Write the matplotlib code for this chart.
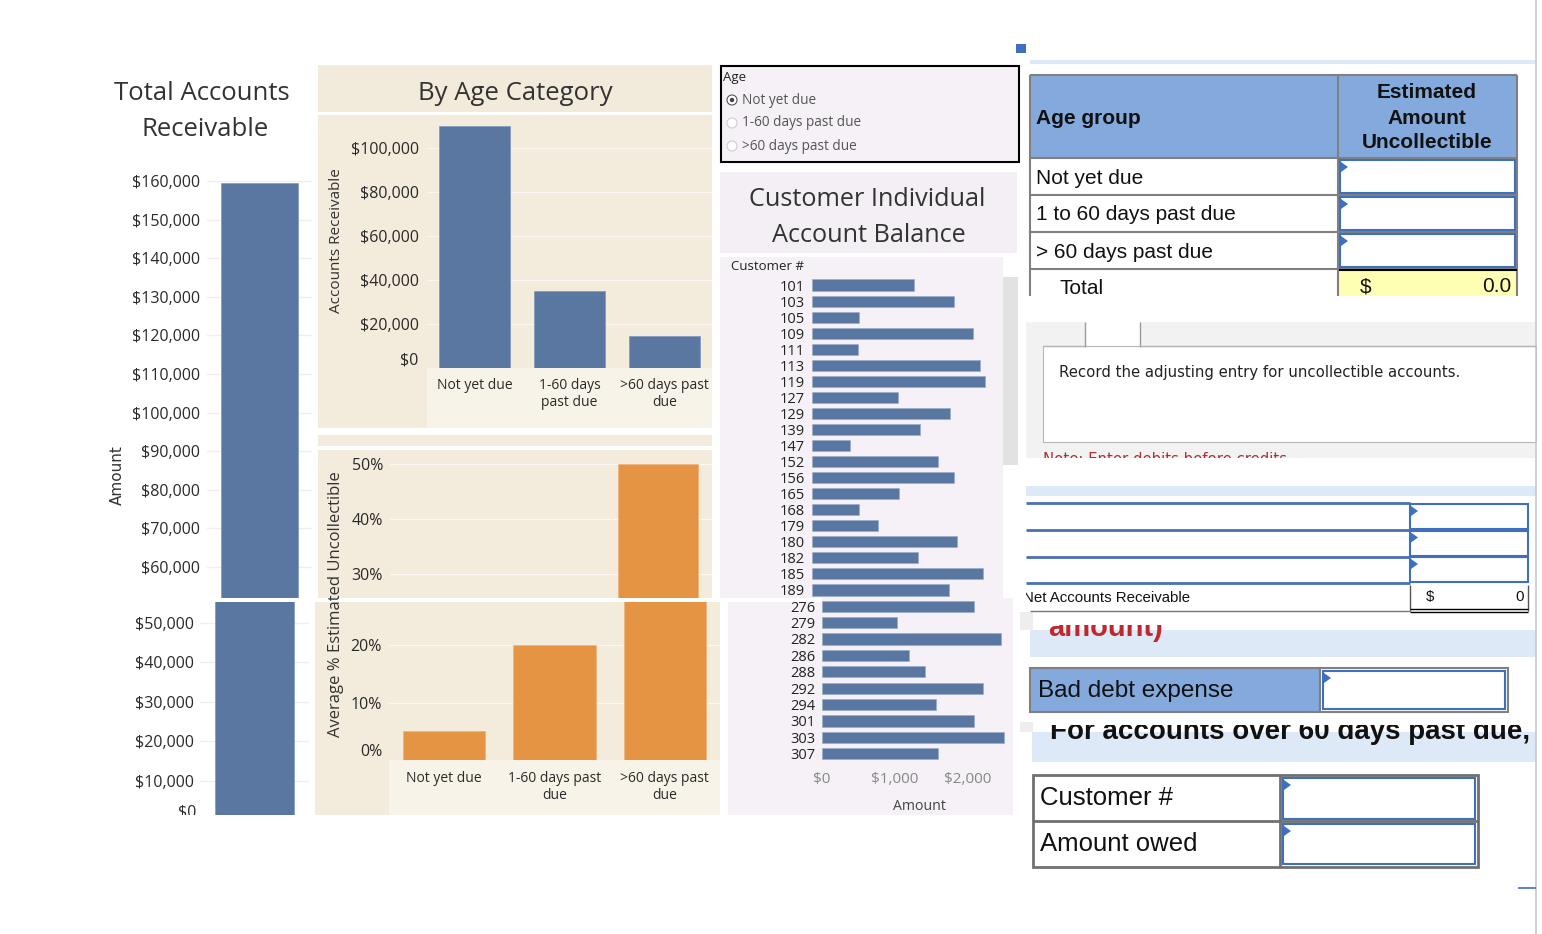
import matplotlib
matplotlib.use("Agg")
import matplotlib.pyplot as plt
from matplotlib.patches import Rectangle, Polygon, Circle

W, H = 1542, 934

# ---- data ----
age_groups = ["Not yet due", "1-60 days past due", ">60 days past due"]
age_ticks_top = ["Not yet due", "1-60 days\npast due", ">60 days past\ndue"]
age_ticks_pct = ["Not yet due", "1-60 days past\ndue", ">60 days past\ndue"]
ar_by_age = [110000, 35000, 14500]
pct_uncollectible = [5, 20, 50]

customers_top = [101, 103, 105, 109, 111, 113, 119, 127, 129, 139,
                 147, 152, 156, 165, 168, 179, 180, 182, 185, 189]
balances_top = [1400, 1950, 650, 2200, 630, 2300, 2370, 1175, 1890, 1480,
                525, 1720, 1950, 1190, 645, 905, 1985, 1455, 2340, 1870]
customers_bottom = [276, 279, 282, 286, 288, 292, 294, 301, 303, 307]
balances_bottom = [2080, 1030, 2445, 1190, 1405, 2200, 1555, 2080, 2495, 1590]

table_rows = ["Not yet due", "1 to 60 days past due", "> 60 days past due"]

BLUE = "#5a77a2"
ORANGE = "#e59443"
BEIGE = "#f3ebdc"
BEIGE_LIGHT = "#f8f3e8"
LAVENDER = "#f5f1f6"
HEAD_BLUE = "#84aadd"
INPUT_BLUE = "#3f6fbf"
BAND = "#dde9f6"
TAB_FONT = "Open Sans"
SHEET_FONT = "Liberation Sans"
TICK = 11.5

fig = plt.figure(figsize=(W / 100, H / 100), dpi=100)


def px_axes(x, y, w, h, z=2):
    ax = fig.add_axes([x / W, 1 - (y + h) / H, w / W, h / H])
    ax.set_zorder(z)
    return ax


bg = px_axes(0, 0, W, H, z=0)
bg.set_xlim(0, W)
bg.set_ylim(H, 0)
bg.axis("off")


def rect(x, y, w, h, fc="none", ec="none", lw=0, z=1):
    bg.add_patch(Rectangle((x, y), w, h, fc=fc, ec=ec, lw=lw, zorder=z))


def hline(y, x0, x1, color, lw=1.0, z=3):
    bg.plot([x0, x1], [y, y], color=color, lw=lw, zorder=z, solid_capstyle="butt")


def vline(x, y0, y1, color, lw=1.0, z=3):
    bg.plot([x, x], [y0, y1], color=color, lw=lw, zorder=z, solid_capstyle="butt")


def txt(x, y, s, size, ha="left", va="center", color="#333333", family=TAB_FONT, clip=None, **kw):
    t = bg.text(x, y, s, size=size, ha=ha, va=va, color=color, family=family, zorder=6, **kw)
    if clip is not None:
        cx, cy, cw, ch = clip
        t.set_clip_path(Rectangle((cx, cy), cw, ch, transform=bg.transData))
        t.set_clip_on(True)
    return t


def style(ax, fc, grid="#efefef"):
    ax.set_facecolor(fc)
    for s in ax.spines.values():
        s.set_visible(False)
    ax.tick_params(length=0, labelsize=TICK, labelcolor="#2a2a2a")
    ax.yaxis.grid(True, color=grid, lw=0.9)
    ax.set_axisbelow(True)
    for lab in ax.get_xticklabels() + ax.get_yticklabels():
        lab.set_family(TAB_FONT)


def money(vals):
    return ["${:,.0f}".format(v) for v in vals]


# ---- Total Accounts Receivable ----
total_ar = sum(ar_by_age)
txt(202, 90, "Total Accounts", 18.5, ha="center", va="center_baseline")
txt(205, 126, "Receivable", 18.5, ha="center", va="center_baseline")
txt(117, 475, "Amount", 11, ha="center", rotation=90, family=["Liberation Sans Narrow", "DejaVu Sans"])

ax = px_axes(207, 172, 105, 426)
ax.bar([0], [total_ar], width=0.733, color=BLUE, edgecolor="#7f98bd", lw=0.5)
ax.set_xlim(-0.5, 0.5)
ax.set_ylim(51970, 162330)
ticks = list(range(60000, 160001, 10000))
ax.set_yticks(ticks, money(ticks))
ax.set_xticks([])
style(ax, "white")
ax.tick_params(axis="y", pad=5)

ax = px_axes(200, 602, 109, 213)
ax.bar([0], [total_ar], width=0.725, color=BLUE, edgecolor="#7f98bd", lw=0.5)
ax.set_xlim(-0.5, 0.5)
ax.set_ylim(1392, 55316)
ticks = list(range(10000, 50001, 10000))
ax.set_yticks(ticks, money(ticks))
ax.set_xticks([])
style(ax, "white")
ax.tick_params(axis="y", pad=4)
txt(196, 812, "$0", TICK, ha="right", color="#2a2a2a", clip=(100, 790, 200, 25))

# ---- By Age Category ----
rect(318, 65, 394, 47, fc="#f2eadb")
txt(515, 90, "By Age Category", 18.5, ha="center", va="center_baseline")
rect(318, 115, 394, 313, fc=BEIGE)
rect(427, 368, 285, 60, fc=BEIGE_LIGHT)
txt(337, 241, "Accounts Receivable", 11, ha="center", rotation=90)

ax = px_axes(427, 115, 285, 253)
ax.bar(range(3), ar_by_age, width=0.755, color=BLUE, edgecolor="#7f98bd", lw=0.5)
ax.set_xlim(-0.5, 2.5)
ax.set_ylim(0, 115000)
ticks = list(range(0, 100001, 20000))
ax.set_yticks(ticks, money(ticks))
ax.set_xticks(range(3), age_ticks_top)
style(ax, BEIGE, grid="#fbf7f0")
ax.tick_params(axis="y", pad=6)
ax.tick_params(axis="x", pad=7, labelsize=10)
ax.get_yticklabels()[0].set_va("bottom")

# ---- Average % Estimated Uncollectible ----
rect(318, 435, 394, 11, fc=BEIGE)
rect(318, 450, 394, 148, fc=BEIGE)
rect(315, 602, 405, 213, fc=BEIGE)
rect(389, 760, 331, 55, fc=BEIGE_LIGHT)
txt(336, 604, "Average % Estimated Uncollectible", 12, ha="center", rotation=90)

ax = px_axes(390, 450, 322, 148)
ax.bar(range(3), pct_uncollectible, width=0.745, color=ORANGE, edgecolor="#eeb27a", lw=0.5)
ax.set_xlim(-0.5, 2.5)
ax.set_ylim(25.64, 52.55)
ax.set_yticks([30, 40, 50], ["30%", "40%", "50%"])
ax.set_xticks([])
style(ax, BEIGE, grid="#fbf7f0")
ax.tick_params(axis="y", pad=5)

ax = px_axes(389, 602, 331, 158)
ax.bar(range(3), pct_uncollectible, width=0.745, color=ORANGE, edgecolor="#eeb27a", lw=0.5)
ax.set_xlim(-0.5, 2.5)
ax.set_ylim(0, 27.57)
ax.set_yticks([0, 10, 20], ["0%", "10%", "20%"])
ax.set_xticks(range(3), age_ticks_pct)
style(ax, BEIGE, grid="#fbf7f0")
ax.tick_params(axis="y", pad=5)
ax.tick_params(axis="x", pad=8, labelsize=10)
ax.get_yticklabels()[0].set_va("bottom")

# seam between the pasted screenshots
rect(100, 598, 925, 4, fc="white", z=5)

# ---- Age filter ----
rect(721, 66, 298, 96, fc=LAVENDER, ec="black", lw=1.5)
txt(723, 77, "Age", 9.5, color="#222222")
for i, g in enumerate(age_groups):
    yy = 100 + 23 * i
    bg.add_patch(Circle((732, yy), 5, fc="white", ec="#555555" if i == 0 else "#cfcfcf", lw=0.8, zorder=4))
    if i == 0:
        bg.add_patch(Circle((732, yy), 2.2, fc="#444444", ec="none", zorder=5))
    txt(742, yy, g, 9.8, color="#555555")

rect(720, 172, 297, 81, fc="#f3eff5")
txt(867, 197, "Customer Individual", 18.2, ha="center", va="center_baseline")
txt(869, 233, "Account Balance", 18.2, ha="center", va="center_baseline")

# ---- Customer balances ----
rect(720, 257, 283, 341, fc=LAVENDER)
rect(1003, 277, 15, 188, fc="#e2e2e2")
txt(731, 267, "Customer #", 9.5, color="#222222")

ax = px_axes(812, 277, 191, 321)
ax.barh(range(len(customers_top)), balances_top, height=0.69, color=BLUE, edgecolor="#9aaecb", lw=0.5)
ax.set_ylim(len(customers_top) - 0.5, -0.5)
ax.set_xlim(0, 2616)
ax.set_yticks(range(len(customers_top)), [str(c) for c in customers_top])
ax.set_xticks([])
style(ax, LAVENDER)
ax.yaxis.grid(False)
ax.tick_params(axis="y", pad=5, labelsize=10.5, labelcolor="#222222")

rect(728, 600, 285, 215, fc=LAVENDER)
ax = px_axes(822, 598, 191, 164)
ax.barh(range(len(customers_bottom)), balances_bottom, height=0.69, color=BLUE, edgecolor="#9aaecb", lw=0.5)
ax.set_ylim(len(customers_bottom) - 0.5, -0.5)
ax.set_xlim(0, 2616)
ax.set_yticks(range(len(customers_bottom)), [str(c) for c in customers_bottom])
ax.set_xticks([0, 1000, 2000], money([0, 1000, 2000]))
style(ax, LAVENDER)
ax.yaxis.grid(False)
ax.tick_params(axis="y", pad=5, labelsize=10.5, labelcolor="#222222")
ax.tick_params(axis="x", pad=7, labelsize=11, labelcolor="#888888")
txt(919, 806, "Amount", 10.2, ha="center", color="#444444")

# ---- right-hand worksheet ----
vline(1536, 0, H, "#c8c8c8", lw=1.2)
rect(1016, 44, 10, 9, fc=INPUT_BLUE)
rect(1030, 60, 506, 4, fc=BAND)
hline(888, 1518, 1536, INPUT_BLUE, lw=1.2)


def input_cell(x, y, w, h):
    rect(x, y, w, h, fc="white", ec=INPUT_BLUE, lw=1.5, z=3)
    bg.add_patch(Polygon([(x + 1, y + 2), (x + 1, y + 12), (x + 8, y + 7)], closed=True,
                         fc=INPUT_BLUE, ec="none", zorder=4))


GRAY = "#808080"
rect(1030, 75, 487, 83, fc=HEAD_BLUE)
rect(1030, 158, 487, 138, fc="white")
for yy in [75, 158, 195, 232, 269]:
    hline(yy, 1030, 1517, GRAY, lw=1.5)
vline(1030, 75, 296, GRAY, lw=1.5)
vline(1338, 75, 296, GRAY, lw=1.5)
vline(1517, 75, 296, GRAY, lw=1.5)
txt(1036, 118, "Age group", 15, family=SHEET_FONT, color="#111111", weight="bold")
for i, line in enumerate(["Estimated", "Amount", "Uncollectible"]):
    txt(1427, 93 + 25 * i, line, 15, ha="center", family=SHEET_FONT, color="#111111", weight="bold")
for i, row in enumerate(table_rows):
    txt(1036, 178 + 37 * i, row, 15, family=SHEET_FONT, color="#111111")
    input_cell(1340, 160 + 37 * i, 175, 33)
rect(1339, 270, 177, 26, fc="#ffffb3", z=2)
hline(270, 1339, 1517, "black", lw=1.5)
txt(1060, 288, "Total", 15, family=SHEET_FONT, color="#111111")
txt(1360, 287, "$", 15, family=SHEET_FONT, color="#111111")
txt(1511, 287, "0.0", 15, ha="right", family=SHEET_FONT, color="#111111")

# journal entry panel
rect(1026, 322, 510, 136, fc="#f2f2f2")
rect(1085, 322, 55, 26, fc="white", z=2)
vline(1085, 322, 347, "#9a9a9a", lw=1)
vline(1140, 322, 347, "#9a9a9a", lw=1)
hline(346, 1043, 1085, "#b5b5b5", lw=1)
hline(346, 1140, 1536, "#b5b5b5", lw=1)
rect(1043, 346, 493, 96, fc="white", ec="#b5b5b5", lw=0.8, z=2)
txt(1059, 372, "Record the adjusting entry for uncollectible accounts.", 10.7, family="DejaVu Sans",
    color="#222222")
txt(1043, 464, "Note: Enter debits before credits.", 10.7, va="baseline", family="DejaVu Sans",
    color="#b03030", clip=(1026, 440, 510, 18))

rect(1026, 486, 510, 10, fc=BAND)
for i in range(3):
    input_cell(1410, 504 + 26.5 * i, 118, 25)
for yy in [503, 530, 557, 583]:
    hline(yy, 1026, 1410, "#4a70b5", lw=2)
txt(1023, 598, "Net Accounts Receivable", 10.8, family=SHEET_FONT, color="#111111",
    clip=(1026, 585, 380, 25))
vline(1410, 585, 611, "#555555", lw=1)
vline(1528, 585, 611, "#555555", lw=1)
txt(1430, 597, "$", 10.8, ha="center", family=SHEET_FONT, color="#111111")
txt(1524, 597, "0", 10.8, ha="right", family=SHEET_FONT, color="#111111")
hline(609, 1410, 1528, "black", lw=1)
hline(612, 1410, 1528, "black", lw=1)
hline(611, 1030, 1410, "#777777", lw=1)
rect(1020, 612, 13, 18, fc="#eeeeee")

rect(1030, 630, 506, 27, fc=BAND)
txt(1048, 636, "amount)", 21, va="baseline", family=SHEET_FONT, color="#c0282d", weight="bold",
    clip=(1030, 625, 506, 40))

rect(1030, 668, 290, 44, fc=HEAD_BLUE, ec=GRAY, lw=1.5, z=2)
rect(1320, 668, 188, 44, fc="white", ec=GRAY, lw=1.5, z=2)
input_cell(1323, 671, 182, 38)
txt(1038, 691, "Bad debt expense", 17.5, family=SHEET_FONT, color="#111111")

rect(1032, 732, 504, 30, fc=BAND)
rect(1020, 722, 13, 10, fc="#eeeeee")
txt(1050, 739, "For accounts over 60 days past due,", 20, va="baseline", family=SHEET_FONT,
    color="#111111", weight="bold", clip=(1030, 725, 506, 40))

rect(1033, 775, 445, 92, fc="white", ec="#707070", lw=2, z=2)
vline(1280, 775, 867, "#707070", lw=2)
hline(821, 1033, 1478, "#707070", lw=2)
input_cell(1283, 778, 192, 41)
input_cell(1283, 824, 192, 40)
txt(1040, 798, "Customer #", 18.5, family=SHEET_FONT, color="#111111")
txt(1040, 844, "Amount owed", 18.5, family=SHEET_FONT, color="#111111")

fig.savefig("out.png", dpi=100)
